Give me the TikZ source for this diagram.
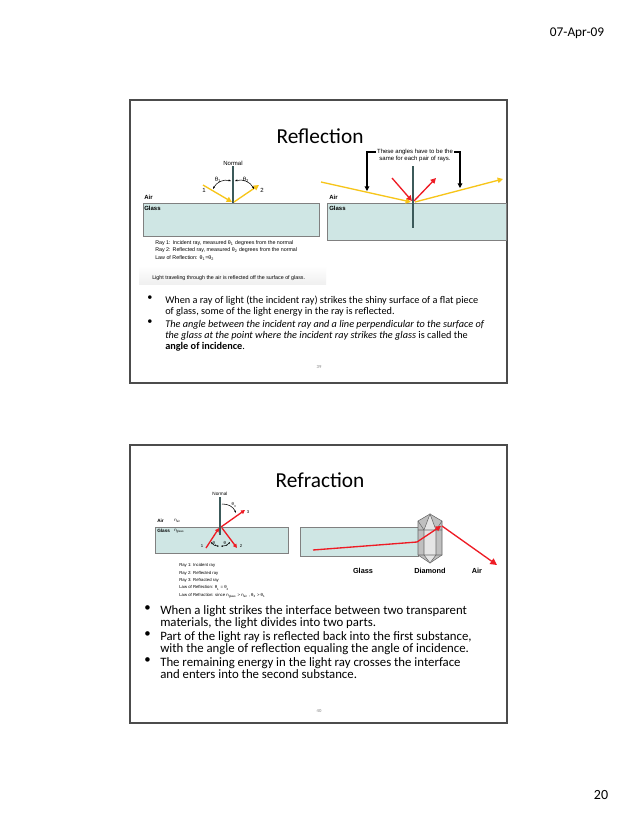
\documentclass[tikz,border=0pt]{standalone}
\usepackage{fontspec}
\setmainfont{Carlito}
\newfontfamily\arial{Liberation Sans}
\usetikzlibrary{arrows.meta}
\definecolor{glass}{HTML}{CFE6E4}
\definecolor{ray}{HTML}{F7C519}
\definecolor{redray}{HTML}{EE1C25}
\definecolor{nrm}{HTML}{3C5A5A}
\begin{document}
\begin{tikzpicture}[x=0.75pt,y=-0.75pt,
  slide/.style={draw=black!70,line width=0.8pt},
  glassbox/.style={draw=black!50,fill=glass,line width=0.5pt},
  normal/.style={draw=nrm,line width=1pt},
  yray/.style={draw=ray,line width=1pt,-{Triangle[length=4pt,width=4pt]}},
  rray/.style={draw=redray,line width=1pt,-{Triangle[length=4pt,width=4pt]}},
  lab/.style={font=\arial\fontsize{4.5}{5}\selectfont,inner sep=0},
  blab/.style={font=\arial\bfseries\fontsize{4.5}{5}\selectfont,inner sep=0,anchor=west},
  small/.style={font=\arial\fontsize{4}{4.8}\selectfont,inner sep=0,anchor=west},
  tiny/.style={font=\arial\fontsize{3.2}{4}\selectfont,inner sep=0,anchor=west},
  title/.style={font=\fontsize{16}{18}\selectfont,inner sep=0},
  bul/.style={anchor=north west,inner sep=0,align=left}]
\useasboundingbox (0,0) rectangle (638,826);
\fill[white] (0,0) rectangle (638,826);
\node[font=\fontsize{10}{12}\selectfont,inner sep=0] (date) at (577,33) {07-Apr-09};
\node[font=\fontsize{10.5}{12}\selectfont,inner sep=0] (pg) at (601,795) {20};
% ---------- slide 1 ----------
\draw[slide] (130,100) rectangle (507,383);
\node[title] (t1) at (320,136) {Reflection};
\draw[glassbox] (143,203) rectangle (319,236);
\node[blab] (air1) at (144,197) {Air};
\node[blab] (gl1) at (144,208) {Glass};
\coordinate (n1t) at (233,166); \coordinate (n1b) at (233,203);
\draw[normal] (n1t) -- (n1b);
\node[lab] (nl1) at (233,163) {Normal};
\coordinate (r1s) at (203,185); \coordinate (hit1) at (232,202);
\draw[yray] (r1s) -- (hit1);
\coordinate (r2e) at (259,185);
\draw[yray] (234,202) -- (r2e);
\draw[black,line width=0.4pt,{Stealth[length=2pt]}-{Stealth[length=2pt]}] (213,189) to[bend left=40] (231,181);
\draw[black,line width=0.4pt,{Stealth[length=2pt]}-{Stealth[length=2pt]}] (235,181) to[bend left=40] (254,189);
\node[lab] (th1) at (218,180) {θ\textsubscript{1}};
\node[lab] (th2) at (246,180) {θ\textsubscript{2}};
\node[lab] (l1) at (204,190) {1};
\node[lab] (l2) at (262,190) {2};
\node[small] (d1) at (155,243) {Ray 1: Incident ray, measured  θ\textsubscript{1} degrees from the normal};
\node[small] (d2) at (155,250) {Ray 2: Reflected ray, measured  θ\textsubscript{2} degrees from the normal};
\node[small] (d3) at (155,258) {Law of Reflection:   θ\textsubscript{1}=θ\textsubscript{2}};
\shade[top color=white,bottom color=black!6] (139,266) rectangle (326,284);
\node[small] (d4) at (152,278) {Light traveling through the air is reflected off the surface of glass.};
% right part
\draw[glassbox] (327,203) rectangle (506,240);
\node[blab] (air2) at (329,197) {Air};
\node[blab] (gl2) at (329,208) {Glass};
\draw[normal] (413,166) -- (413,228);
\coordinate (ys) at (321,182); \coordinate (ye) at (503,179);
\draw[yray] (ys) -- (411,202);
\draw[yray] (415,202) -- (ye);
\draw[rray] (392,178) -- (412,201);
\draw[rray] (414,201) -- (436,178);
\node[font=\arial\fontsize{4.5}{5.2}\selectfont,align=center,inner sep=0] (note) at (415,155) {These angles have to be the\\same for each pair of rays.};
\draw[black,line width=0.8pt,-{Triangle[length=3.5pt,width=3.5pt]}] (376,152) -- (367,152) -- (367,191);
\draw[black,line width=0.8pt,-{Triangle[length=3.5pt,width=3.5pt]}] (454,152) -- (460,152) -- (460,188);
\node[bul,font=\fontsize{7.7}{8.3}\selectfont] (b1) at (147,296) {\textbullet};
\node[bul,font=\fontsize{7.7}{8.3}\selectfont] (b1t) at (165,296) {When a ray of light (the incident ray) strikes the shiny surface of a flat piece\\of glass, some of the light energy in the ray is reflected.};
\node[bul,font=\fontsize{7.7}{8.3}\selectfont] (b2) at (147,320) {\textbullet};
\node[bul,font=\fontsize{7.7}{8.3}\selectfont] (b2t) at (165,320) {\textit{The angle between the incident ray and a line perpendicular to the surface of}\\\textit{the glass at the point where the incident ray strikes the glass} is called the\\\textbf{angle of incidence}.};
\node[font=\fontsize{3.5}{4}\selectfont,text=black!50,inner sep=0] (p39) at (319,367) {39};
% ---------- slide 2 ----------
\draw[slide] (130,445) rectangle (507,723);
\node[title] (t2) at (320,480) {Refraction};
\draw[glassbox] (155,527) rectangle (288,553);
\node[blab,font=\arial\bfseries\fontsize{3.5}{4}\selectfont] (air3) at (157,521) {Air};
\node[tiny] (nair) at (174,521) {n\textsubscript{air}};
\node[blab,font=\arial\bfseries\fontsize{3.5}{4}\selectfont] (gl3) at (157,531) {Glass};
\node[tiny] (ngl) at (174,531) {n\textsubscript{glass}};
\draw[normal] (220,497) -- (220,535);
\node[lab,font=\arial\fontsize{3.5}{4}\selectfont] (nl2) at (220,494) {Normal};
\draw[rray,-{Triangle[length=3pt,width=3pt]}] (221,527) -- (245,510);
\draw[black,line width=0.4pt,-{Stealth[length=2pt]}] (222,504) to[bend left=35] (236,513);
\node[tiny,anchor=center] (th3) at (234,505) {θ\textsubscript{3}};
\node[tiny,anchor=center] (l3) at (248,512) {3};
\draw[rray,-{Triangle[length=3pt,width=3pt]}] (206,548) -- (219,528);
\draw[rray,-{Triangle[length=3pt,width=3pt]}] (222,528) -- (237,548);
\draw[black,line width=0.4pt,{Stealth[length=1.5pt]}-{Stealth[length=1.5pt]}] (211,542) to[bend right=30] (219,546);
\draw[black,line width=0.4pt,{Stealth[length=1.5pt]}-{Stealth[length=1.5pt]}] (221,546) to[bend right=30] (230,542);
\node[tiny,anchor=center] (th1b) at (215,544) {θ\textsubscript{1}};
\node[tiny,anchor=center] (th2b) at (226,544) {θ\textsubscript{2}};
\node[tiny,anchor=center] (l1b) at (202,546) {1};
\node[tiny,anchor=center] (l2b) at (241,546) {2};
\node[tiny] (e1) at (179,565) {Ray 1: Incident ray};
\node[tiny] (e2) at (179,573) {Ray 2: Reflected ray};
\node[tiny] (e3) at (179,580) {Ray 3: Refracted ray};
\node[tiny] (e4) at (179,588) {Law of Reflection:  θ\textsubscript{1} = θ\textsubscript{2}};
\node[tiny] (e5) at (179,596) {Law of Refraction: since n\textsubscript{glass} > n\textsubscript{air} , θ\textsubscript{3} > θ\textsubscript{1}};
% right part
\draw[glassbox] (300,527) rectangle (418,556);
\draw[black!60,fill=black!25,line width=0.4pt] (418,521) -- (430,514) -- (442,521) -- (442,555) -- (430,563) -- (418,555) -- cycle;
\draw[black!60,fill=black!10,line width=0.4pt] (424,530) -- (424,555) -- (430,563) -- (436,555) -- (436,530) -- (430,514) -- cycle;
\draw[black!60,line width=0.4pt] (418,530) -- (442,530) (418,555) -- (442,555) (418,521) -- (424,530) (442,521) -- (436,530);
\draw[redray,line width=1pt] (313,550) -- (417,542);
\draw[redray,line width=1pt,-{Triangle[length=4pt,width=4pt]}] (417,542) -- (441,526);
\draw[redray,line width=1pt,-{Triangle[length=5pt,width=5pt]}] (442,526) -- (497,565);
\node[blab,font=\arial\bfseries\fontsize{5.5}{6}\selectfont,anchor=center] (gl4) at (363,571) {Glass};
\node[blab,font=\arial\bfseries\fontsize{5.5}{6}\selectfont,anchor=center] (dia) at (430,571) {Diamond};
\node[blab,font=\arial\bfseries\fontsize{5.5}{6}\selectfont,anchor=center] (air4) at (477,571) {Air};
\node[bul,font=\fontsize{9.6}{8.3}\selectfont] (c1) at (144,605) {\textbullet};
\node[bul,font=\fontsize{9.6}{8.3}\selectfont] (c1t) at (160,605) {When a light strikes the interface between two transparent\\materials, the light divides into two parts.};
\node[bul,font=\fontsize{9.6}{8.3}\selectfont] (c2) at (144,631) {\textbullet};
\node[bul,font=\fontsize{9.6}{8.3}\selectfont] (c2t) at (160,631) {Part of the light ray is reflected back into the first substance,\\with the angle of reflection equaling the angle of incidence.};
\node[bul,font=\fontsize{9.6}{8.3}\selectfont] (c3) at (144,657) {\textbullet};
\node[bul,font=\fontsize{9.6}{8.3}\selectfont] (c3t) at (160,657) {The remaining energy in the light ray crosses the interface\\and enters into the second substance.};
\node[font=\fontsize{3.5}{4}\selectfont,text=black!50,inner sep=0] (p40) at (319,711) {40};
\end{tikzpicture}
\end{document}
